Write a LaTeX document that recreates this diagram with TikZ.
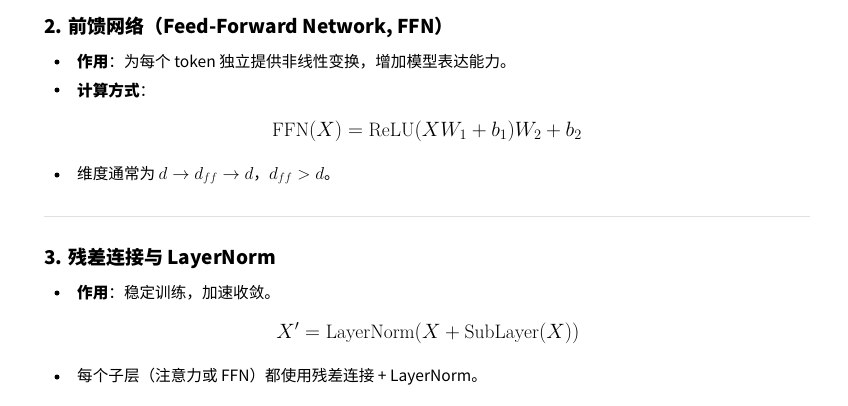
\documentclass[tikz,border=0pt]{standalone}
\usepackage{amsmath}
\usepackage{fontspec}
\newfontfamily\cjk{Noto Sans CJK SC}
\begin{document}
\begin{tikzpicture}[x=1pt,y=-1pt,
  txt/.style={anchor=west,inner sep=0pt,font=\cjk\fontsize{15.6}{18}\selectfont},
  head/.style={anchor=west,inner sep=0pt,font=\cjk\fontsize{19}{22}\selectfont\bfseries},
  frm/.style={inner sep=0pt,font=\fontsize{19.5}{22}\selectfont},
  dot/.style={fill=black,circle,inner sep=0pt,minimum size=5pt}]
\useasboundingbox (0,0) rectangle (848,405);
\node[head] (h1) at (44,27) {2. 前馈网络（Feed-Forward Network, FFN）};
\node[dot] (b1) at (57,62) {};
\node[txt] (t1) at (77,62) {\textbf{作用}：为每个 token 独立提供非线性变换，增加模型表达能力。};
\node[dot] (b2) at (57,90) {};
\node[txt] (t2) at (77,90) {\textbf{计算方式}：};
\node[frm] (f1) at (427,131) {$\mathrm{FFN}(X)=\mathrm{ReLU}(XW_1+b_1)W_2+b_2$};
\node[dot] (b3) at (57,175) {};
\node[txt] (t3) at (77,175) {维度通常为 {\fontsize{17}{20}\selectfont$d\rightarrow d_{ff}\rightarrow d$}，{\fontsize{17}{20}\selectfont$d_{ff}>d$}。};
\draw[black!12,line width=0.8pt] (44,216) -- (810,216);
\node[head] (h2) at (44,258) {3. 残差连接与 LayerNorm};
\node[dot] (b4) at (57,293) {};
\node[txt] (t4) at (77,293) {\textbf{作用}：稳定训练，加速收敛。};
\node[frm] (f2) at (428,333) {$X'=\mathrm{LayerNorm}(X+\mathrm{SubLayer}(X))$};
\node[dot] (b5) at (57,377) {};
\node[txt] (t5) at (77,377) {每个子层（注意力或 FFN）都使用残差连接 + LayerNorm。};
\end{tikzpicture}
\end{document}
